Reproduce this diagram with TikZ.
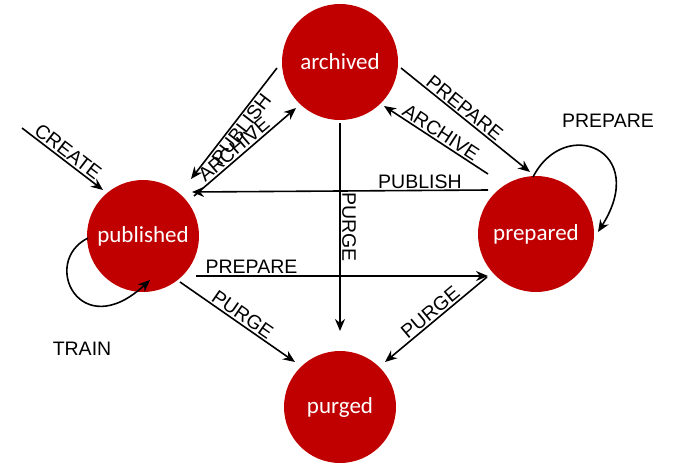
\documentclass[tikz,border=0pt]{standalone}
\usepackage{fontspec}
\setmainfont{Liberation Sans}
\newfontfamily\nodefont{Carlito}
\usetikzlibrary{arrows.meta}
\definecolor{redst}{RGB}{192,0,0}
\begin{document}
\begin{tikzpicture}[x=1pt,y=-1pt,
  state/.style={circle,fill=redst,minimum size=116pt,inner sep=0pt,text=white,font=\nodefont\fontsize{23}{25}\selectfont},
  edge/.style={-{Stealth[length=12pt,width=10pt]},line width=1.6pt},
  lab/.style={font=\fontsize{19.5}{21}\selectfont,inner sep=1.5pt}]
\useasboundingbox (0,0) rectangle (678,469);
\node[state] (ar) at (340,62) {archived};
\node[state,minimum size=112pt] (pu) at (143,236) {published};
\node[state] (pr) at (536,234) {prepared};
\node[state,minimum size=112pt] (pg) at (340,407) {purged};
\coordinate (cs) at (22,128);
\draw[edge] (cs) -- (103,190) node[lab,midway,sloped,above] {CREATE};
\draw[edge] (277,68) -- (191,179) node[lab,midway,sloped,below] {PUBLISH};
\draw[edge] (194,196) -- (296,108) node[lab,pos=0.45,sloped,above] {ARCHIVE};
\draw[edge] (401,68) -- (530,172) node[lab,pos=0.45,sloped,above] {PREPARE};
\draw[edge] (488,174) -- (384,106) node[lab,midway,sloped,above] {ARCHIVE};
\draw[edge] (488,190) -- (192,192) node[lab,pos=0.23,above,inner sep=0.5pt] {PUBLISH};
\draw[edge] (533,177) .. controls (565,115) and (650,150) .. (598,232);
\node[lab] (lp) at (608,121) {PREPARE};
\draw[edge] (340,123) -- (340,331) node[lab,pos=0.5,sloped,above] {PURGE};
\draw[edge] (196,276) -- (488,276) node[lab,pos=0.19,above] {PREPARE};
\draw[edge] (180,282) -- (295,362) node[lab,midway,sloped,above] {PURGE};
\draw[edge] (487,277) -- (385,362) node[lab,midway,sloped,above] {PURGE};
\draw[edge] (88,238) .. controls (40,262) and (80,345) .. (150,280);
\node[lab] (lt) at (82,349) {TRAIN};
\end{tikzpicture}
\end{document}
